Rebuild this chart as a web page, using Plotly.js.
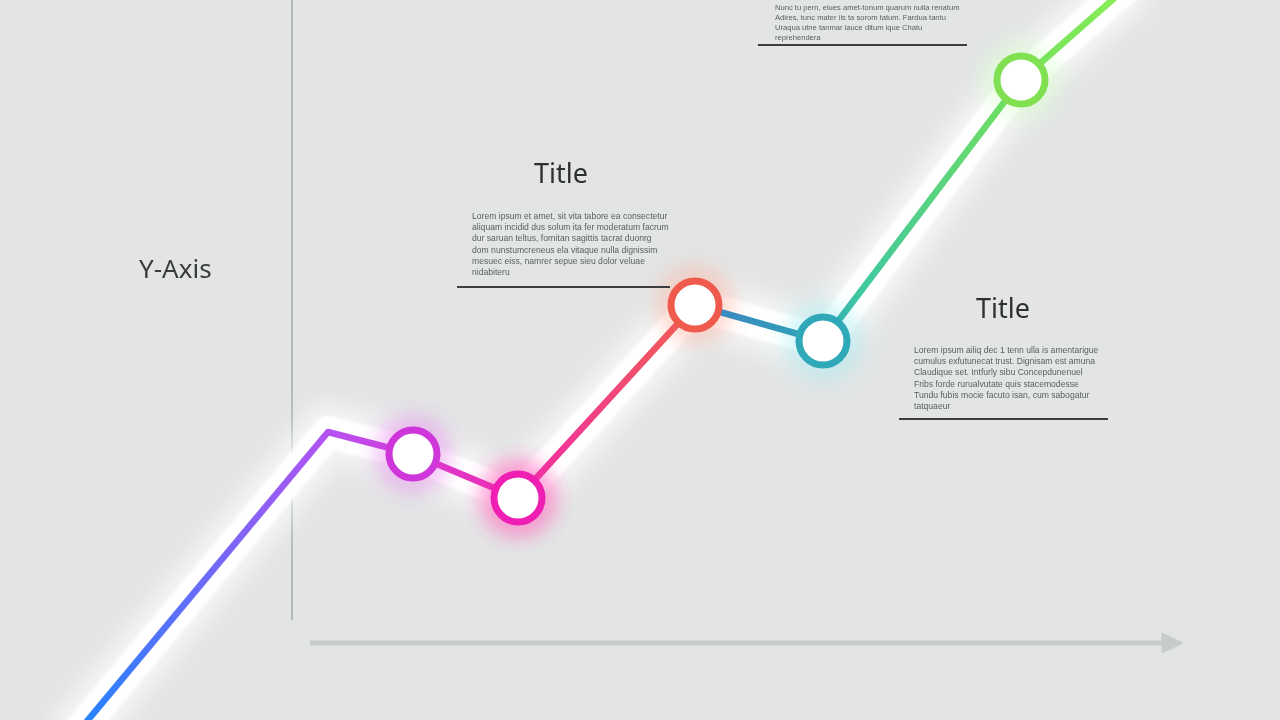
<!DOCTYPE html>
<html>
<head>
<meta charset="utf-8">
<script src="https://cdn.plot.ly/plotly-3.0.1.min.js"></script>
<style>
  html, body { margin: 0; padding: 0; background: #e3e5e5; }
  #chart { width: 1280px; height: 720px; }
</style>
</head>
<body>
<div id="chart"></div>
<script>
// ---- data (abstract units: x 0..128, y 0..72) ----
const lineX = [6.8, 32.8, 41.3, 51.8, 69.5, 82.3, 102.1, 113.5];
const lineY = [-2.4, 28.8, 26.6, 22.2, 41.5, 37.9, 64.0, 74.0];

const markerX = [41.3, 51.8, 69.5, 82.3, 102.1];
const markerY = [26.6, 22.2, 41.5, 37.9, 64.0];
const markerColors = ['#cf36d9', '#f01fb4', '#ee5a4c', '#2fa8b8', '#80e052'];
const haloColors = ['rgba(220,80,230,0.30)', 'rgba(255,60,170,0.45)', 'rgba(255,140,110,0.30)', 'rgba(120,230,240,0.30)', 'rgba(210,255,200,0.45)'];

// gradient stops along the line (x position, colour) - styling only
const gradStopX = [6.8, 32.8, 41.3, 51.8, 69.5, 71.8, 82.3, 86.0, 102.1, 113.5];
const gradStopC = ['#1c86ff', '#b452f2', '#d63ad8', '#f22aaa', '#f06050', '#3a88c0', '#2fa6b8', '#40c8a0', '#74e05c', '#8cef58'];

const titleTexts = ['Title', 'Title'];
const axisLabel = 'Y-Axis';
const blockLines = [
  ['Lorem ipsum et amet, sit vita tabore ea consectetur',
   'aliquam incidid dus solum ita fer moderatum facrum',
   'dur saruan teltus, fornitan sagittis tacrat duonrg',
   'dom nunstumcreneus ela vitaque nulla dignissim',
   'mesuec eiss, namrer sepue sieu dolor veluae',
   'nidabiteru'],
  ['Lorem ipsum ailiq dec 1 tenn ulla is amentarigue',
   'cumulus exfutunecat trust. Dignisam est amuna',
   'Claudique set. Intfurly sibu Concepdunenuel',
   'Fribs forde rurualvutate quis stacemodesse',
   'Tundu fubis mocie facuto isan, cum sabogatur',
   'tatquaeur'],
  ['Nunc tu pern, elues amet-tonum quarum nulla renatum',
   'Adires, tunc mater iis ta sorom tatum. Fardua tantu',
   'Uraqua utne tanmar lauce ditum ique Chatu',
   'reprehendera']
];

const gd = document.getElementById('chart');

const traces = [
  // soft outer glow
  { x: lineX, y: lineY, mode: 'lines', line: { color: 'rgba(255,255,255,0.6)', width: 56 }, hoverinfo: 'skip' },
  // white glow band
  { x: lineX, y: lineY, mode: 'lines', line: { color: 'rgba(255,255,255,0.98)', width: 32 }, hoverinfo: 'skip' },
  // colored halos around markers
  { x: markerX, y: markerY, mode: 'markers', marker: { size: 80, color: haloColors, line: { width: 0 } }, hoverinfo: 'skip' },
  // colored line
  { x: lineX, y: lineY, mode: 'lines', line: { color: '#b452f2', width: 6.5 }, hoverinfo: 'skip' },
  // ring markers
  { x: markerX, y: markerY, mode: 'markers',
    marker: { size: 48, color: '#ffffff', line: { color: markerColors, width: 7 } }, hoverinfo: 'skip' }
];

const annotations = [
  { x: 17.5, y: 45.2, text: axisLabel, showarrow: false, font: { family: 'Noto Sans', size: 26, color: '#3a3c3e' } },
  { x: 56.1, y: 54.8, text: titleTexts[0], showarrow: false, font: { family: 'Noto Sans', size: 27, color: '#2e3032' } },
  { x: 100.3, y: 41.3, text: titleTexts[1], showarrow: false, font: { family: 'Noto Sans', size: 27, color: '#2e3032' } },
  { x: 47.0, y: 51.1, xanchor: 'left', yanchor: 'top', align: 'left', showarrow: false,
    text: blockLines[0].join('<br>'), font: { family: 'Liberation Sans', size: 8.6, color: '#5a5e60' } },
  { x: 91.2, y: 37.7, xanchor: 'left', yanchor: 'top', align: 'left', showarrow: false,
    text: blockLines[1].join('<br>'), font: { family: 'Liberation Sans', size: 8.6, color: '#5a5e60' } },
  { x: 77.3, y: 71.95, xanchor: 'left', yanchor: 'top', align: 'left', showarrow: false,
    text: blockLines[2].join('<br>'), font: { family: 'Liberation Sans', size: 7.6, color: '#5a5e60' } }
];

const shapes = [
  // vertical axis
  { type: 'line', x0: 29.2, x1: 29.2, y0: 10.0, y1: 72.5, line: { color: '#b5b9bb', width: 2 }, layer: 'below' },
  // horizontal axis
  { type: 'line', x0: 31.0, x1: 116.6, y0: 7.7, y1: 7.7, line: { color: '#c7cbcc', width: 5 }, layer: 'below' },
  { type: 'path', path: 'M 116.2 8.7 L 118.3 7.7 L 116.2 6.7 Z', fillcolor: '#c7cbcc', line: { color: '#c7cbcc', width: 1 }, layer: 'below' },
  // underlines
  { type: 'line', x0: 45.7, x1: 67.0, y0: 43.3, y1: 43.3, line: { color: '#3a3c3e', width: 2 } },
  { type: 'line', x0: 89.9, x1: 110.8, y0: 30.1, y1: 30.1, line: { color: '#3a3c3e', width: 2 } },
  { type: 'line', x0: 75.8, x1: 96.7, y0: 67.5, y1: 67.5, line: { color: '#3a3c3e', width: 2 } }
];

const layout = {
  width: 1280, height: 720,
  margin: { l: 0, r: 0, t: 0, b: 0, pad: 0 },
  paper_bgcolor: '#e3e5e5', plot_bgcolor: '#e3e5e5',
  showlegend: false,
  xaxis: { range: [0, 128], visible: false, fixedrange: true },
  yaxis: { range: [0, 72], visible: false, fixedrange: true },
  annotations: annotations,
  shapes: shapes
};

Plotly.newPlot(gd, traces, layout, { staticPlot: true, displayModeBar: false }).then(function () {
  const NS = 'http://www.w3.org/2000/svg';
  const svg = gd.querySelector('svg.main-svg');
  let defs = svg.querySelector('defs');
  if (!defs) { defs = document.createElementNS(NS, 'defs'); svg.insertBefore(defs, svg.firstChild); }

  // gradient along x
  const grad = document.createElementNS(NS, 'linearGradient');
  grad.setAttribute('id', 'lineGrad');
  grad.setAttribute('x1', '0'); grad.setAttribute('y1', '0');
  grad.setAttribute('x2', '1'); grad.setAttribute('y2', '0');
  const xmin = Math.min.apply(null, lineX), xmax = Math.max.apply(null, lineX);
  gradStopX.forEach(function (xv, i) {
    const st = document.createElementNS(NS, 'stop');
    st.setAttribute('offset', ((xv - xmin) / (xmax - xmin)).toFixed(4));
    st.setAttribute('stop-color', gradStopC[i]);
    grad.appendChild(st);
  });
  defs.appendChild(grad);

  function blur(id, sd) {
    const f = document.createElementNS(NS, 'filter');
    f.setAttribute('id', id);
    f.setAttribute('x', '-50%'); f.setAttribute('y', '-50%');
    f.setAttribute('width', '200%'); f.setAttribute('height', '200%');
    const g = document.createElementNS(NS, 'feGaussianBlur');
    g.setAttribute('stdDeviation', sd);
    f.appendChild(g);
    defs.appendChild(f);
  }
  blur('blurBig', 11);
  blur('blurMid', 1.8);
  blur('blurHalo', 9);

  const tr = gd.querySelectorAll('.scatterlayer .trace');
  const p0 = tr[0].querySelector('path.js-line');
  if (p0) { p0.setAttribute('filter', 'url(#blurBig)'); p0.style.strokeLinejoin = 'round'; }
  const p1 = tr[1].querySelector('path.js-line');
  if (p1) { p1.setAttribute('filter', 'url(#blurMid)'); p1.style.strokeLinejoin = 'round'; }
  const h = tr[2].querySelector('g.points');
  if (h) h.setAttribute('filter', 'url(#blurHalo)');
  const p3 = tr[3].querySelector('path.js-line');
  if (p3) { p3.style.stroke = 'url(#lineGrad)'; p3.style.strokeLinejoin = 'round'; }
});
</script>
</body>
</html>
